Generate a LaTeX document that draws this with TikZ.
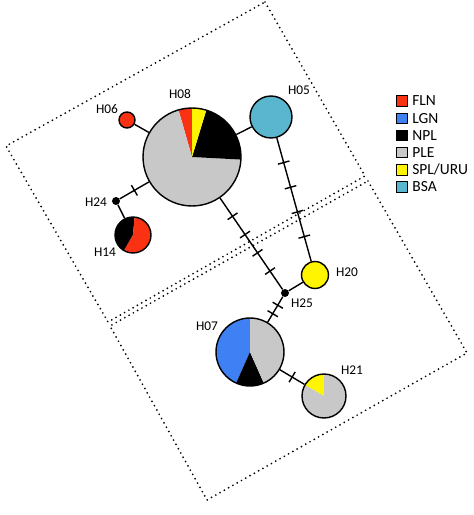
\documentclass[tikz,border=0pt]{standalone}
\usepackage{fontspec}
\setmainfont{Carlito}
\usetikzlibrary{calc, decorations.markings}

\definecolor{fln}{RGB}{250,50,20}
\definecolor{lgn}{RGB}{64,128,245}
\definecolor{npl}{RGB}{0,0,0}
\definecolor{ple}{RGB}{200,200,200}
\definecolor{spl}{RGB}{255,245,0}
\definecolor{bsa}{RGB}{90,182,206}

\tikzset{
    hap/.style={circle, draw, line width=0.8pt, inner sep=0pt},
    median/.style={circle, fill=black, inner sep=0pt, minimum size=0.16cm},
    link/.style={line width=0.8pt},
    mut/.style={postaction={decorate, decoration={markings,
        mark=between positions 1/(#1+1) and #1/(#1+1)+0.001 step 1/(#1+1)
        with {\draw[line width=0.8pt] (0,-3.4pt) -- (0,3.4pt);}}}},
    zone/.style={line width=1.1pt, line cap=round, dash pattern=on 0pt off 2.8pt},
    lbl/.style={font=\fontsize{7.6}{9}\selectfont, inner sep=0pt},
    keybox/.style={draw, line width=0.5pt, minimum width=0.22cm, minimum height=0.21cm, inner sep=0pt},
    keytext/.style={font=\fontsize{8.8}{10}\selectfont, inner sep=0pt, anchor=base west}
}

% name, position, radius, slices start/end/colour
\newcommand{\hap}[4]{%
    \foreach \a/\b/\col in {#4}
        \fill[\col] (#2) -- ++(\a:#3) arc (\a:\b:#3) -- cycle;
    \node[hap, minimum size=#3*0.04cm] (#1) at (#2) {};}

\begin{document}
\begin{tikzpicture}[x=0.02cm, y=0.02cm]
    \useasboundingbox (0,0) rectangle (474,515);

    % the two zones
    \draw[zone] (265,513) -- (365,339) -- (108,193) -- (6,369) -- cycle;
    \draw[zone] (368,334) -- (467,162) -- (207,15) -- (110,189) -- cycle;

    % haplotypes
    \hap{H08}{192,358}{49}{90/106/fln, 106/357/ple, -3/73/npl, 73/90/spl}
    \hap{H06}{127,395}{8}{0/360/fln}
    \hap{H05}{271,398}{21}{0/360/bsa}
    \hap{H14}{133,280}{18}{85/240/npl, 240/445/fln}
    \hap{H20}{315,240}{13.5}{0/360/spl}
    \hap{H07}{250,163}{34}{90/246/lgn, 246/294/npl, 294/450/ple}
    \hap{H21}{324,119}{22}{90/150/spl, 150/450/ple}

    % median vectors
    \node[median] (H24) at (116,314) {};
    \node[median] (H25) at (285,222) {};

    % links, ticks = mutations
    \draw[link] (H06) -- (H08);
    \draw[link] (H08) -- (H05);
    \draw[link, mut=1] (H08) -- (H24);
    \draw[link] (H24) -- (H14);
    \draw[link, mut=4] (H08) -- (H25);
    \draw[link, mut=4] (H05) -- (H20);
    \draw[link] (H20) -- (H25);
    \draw[link, mut=2] (H25) -- (H07);
    \draw[link, mut=1] (H07) -- (H21);

    % labels
    \node[lbl] (l08) at (180,421) {H08};
    \node[lbl] (l06) at (107,406) {H06};
    \node[lbl] (l05) at (299,425) {H05};
    \node[lbl] (l24) at (96,313) {H24};
    \node[lbl] (l14) at (105,263) {H14};
    \node[lbl] (l20) at (347,243) {H20};
    \node[lbl] (l25) at (302,212) {H25};
    \node[lbl] (l07) at (207,189) {H07};
    \node[lbl] (l21) at (352,145) {H21};

    % legend
    \foreach \col/\txt [count=\i] in {fln/FLN, lgn/LGN, npl/NPL, ple/PLE, spl/SPL\slash URU, bsa/BSA} {
        \node[keybox, fill=\col] (k\i) at (401.5,{414-17.2*(\i-1)}) {};
        \node[keytext] (t\i) at (412,{409-17.2*(\i-1)}) {\txt};
    }
\end{tikzpicture}
\end{document}
